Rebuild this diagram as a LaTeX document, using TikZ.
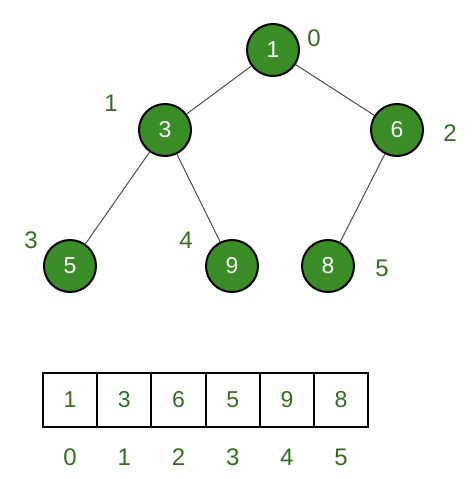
\documentclass[tikz,border=0pt]{standalone}
\usepackage{fontspec}
\setmainfont{Liberation Sans}
\usetikzlibrary{positioning, calc}

\definecolor{heapgreen}{RGB}{58,140,38}
\definecolor{idxgreen}{RGB}{52,110,30}
\tikzset{
    heapnode/.style={circle, draw=black, line width=2pt, fill=heapgreen, text=white,
        minimum size=52pt, inner sep=0pt, font=\fontsize{23}{23}\selectfont},
    idx/.style={text=idxgreen, font=\fontsize{24}{24}\selectfont},
    cell/.style={draw=black, line width=2pt, minimum width=54.2pt, minimum height=54pt,
        inner sep=0pt, text=idxgreen, font=\fontsize{23}{23}\selectfont},
    edge/.style={draw=black!70, line width=1pt}
}

\begin{document}
\begin{tikzpicture}[x=1pt, y=-1pt]
    \useasboundingbox (0,0) rectangle (474,479);
    % tree
    \node[heapnode] (n0) at (273,50) {1};
    \node[heapnode] (n1) at (165,130) {3};
    \node[heapnode] (n2) at (397,130) {6};
    \node[heapnode] (n3) at (70,266) {5};
    \node[heapnode] (n4) at (232,266) {9};
    \node[heapnode] (n5) at (328,266) {8};
    \draw[edge] (n0) -- (n1);
    \draw[edge] (n0) -- (n2);
    \draw[edge] (n1) -- (n3);
    \draw[edge] (n1) -- (n4);
    \draw[edge] (n2) -- (n5);
    % indices
    \node[idx] (i0) at (314,38) {0};
    \node[idx] (i1) at (111,103) {1};
    \node[idx] (i2) at (450,133) {2};
    \node[idx] (i3) at (31,240) {3};
    \node[idx] (i4) at (186,240) {4};
    \node[idx] (i5) at (382,268) {5};
    % array
    \foreach \v [count=\k from 0] in {1,3,6,5,9,8} {
        \node[cell] (a\k) at ({70.1+54.2*\k},400) {\v};
        \node[idx] (b\k) at ({70.1+54.2*\k},457) {\k};
    }
\end{tikzpicture}
\end{document}
